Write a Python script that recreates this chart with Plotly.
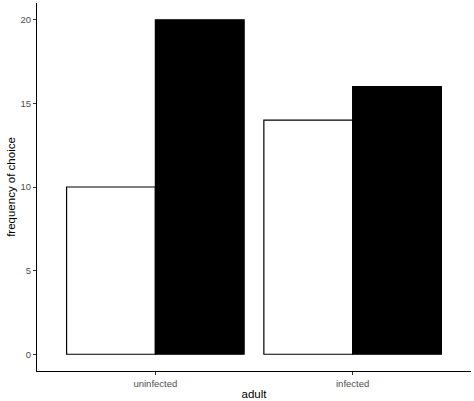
import plotly.graph_objects as go

categories = ["uninfected", "infected"]
series_a = [10, 14]   # white bars
series_b = [20, 16]   # black bars
y_ticks = [0, 5, 10, 15, 20]

fig = go.Figure()
fig.add_trace(go.Bar(
    x=categories, y=series_a, name="a",
    marker=dict(color="white", line=dict(color="black", width=1.2)),
))
fig.add_trace(go.Bar(
    x=categories, y=series_b, name="b",
    marker=dict(color="black", line=dict(color="black", width=1.2)),
))

fig.update_layout(
    width=474, height=401,
    margin=dict(l=37, r=3, t=3, b=30),
    paper_bgcolor="white", plot_bgcolor="white",
    barmode="group", bargap=0.1, bargroupgap=0,
    showlegend=False,
    font=dict(family="Liberation Sans, Arial, sans-serif", color="black"),
)
fig.update_xaxes(
    range=[-0.6, 1.6], automargin=False,
    showline=True, linecolor="black", linewidth=1.2,
    ticks="outside", ticklen=3, tickcolor="#333333", tickwidth=1,
    tickfont=dict(size=9.5, color="#4D4D4D"),
    showgrid=False, zeroline=False,
    title=dict(text="adult", font=dict(size=11.5, color="black"), standoff=2),
)
fig.update_yaxes(
    range=[-1, 21], tickvals=y_ticks, automargin=False,
    showline=True, linecolor="black", linewidth=1.2,
    ticks="outside", ticklen=3, tickcolor="#333333", tickwidth=1,
    tickfont=dict(size=9.5, color="#4D4D4D"),
    showgrid=False, zeroline=False,
    title=dict(text="frequency of choice", font=dict(size=11.5, color="black"), standoff=2),
)

# page body has a default 8px margin; drop it so the figure sits at (0, 0)
fig.write_html("out.html", config={"displayModeBar": False},
               post_script="document.body.style.margin='0';")
